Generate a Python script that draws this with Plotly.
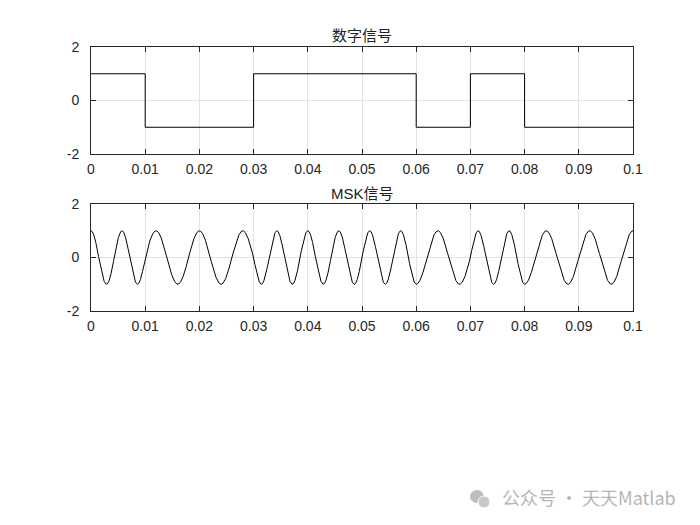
import numpy as np
import plotly.graph_objects as go

# data
bits = [1, -1, -1, 1, 1, 1, -1, 1, -1, -1]   # one bit per 0.01 s
bit_period = 0.01
carrier_freq = 150.0      # Hz
freq_dev = 25.0           # Hz  (f = fc + dev*bit)
x_ticks = [0, 0.01, 0.02, 0.03, 0.04, 0.05, 0.06, 0.07, 0.08, 0.09, 0.1]
x_tick_text = ["0", "0.01", "0.02", "0.03", "0.04", "0.05", "0.06", "0.07", "0.08", "0.09", "0.1"]
y_ticks = [-2, 0, 2]
title_top = "数字信号"
title_bottom = "MSK信号"
watermark = "公众号 · 天天Matlab"

# digital signal as steps
step_x, step_y = [], []
for i, b in enumerate(bits):
    step_x += [i * bit_period, (i + 1) * bit_period]
    step_y += [b, b]

# continuous-phase MSK modulation of the bits
fs = 100000
t = np.arange(0, len(bits) * bit_period + 1e-12, 1 / fs)
idx = np.minimum((t / bit_period).astype(int), len(bits) - 1)
f_inst = carrier_freq + freq_dev * np.array(bits)[idx]
phase = np.concatenate([[0], np.cumsum(2 * np.pi * f_inst[:-1] / fs)])
msk = np.cos(phase)

FONT = "Liberation Sans, Arial, Noto Sans CJK SC"
fig = go.Figure()
fig.add_trace(go.Scatter(x=step_x, y=step_y, mode="lines",
                         line=dict(color="black", width=1), xaxis="x", yaxis="y",
                         hoverinfo="skip"))
fig.add_trace(go.Scatter(x=t, y=msk, mode="lines",
                         line=dict(color="black", width=1), xaxis="x2", yaxis="y2",
                         hoverinfo="skip"))

W, H = 700.0, 525.0
OFF = 8  # page body margin offset
ML, MR, MT, MB = 91 - OFF, 700 - 633 + OFF, 20, 20
PW, PH = W - ML - MR, H - MT - MB

def py(px):  # screen pixel y -> paper fraction
    return (H - MB - (px - OFF)) / PH

def pxx(px):  # screen pixel x -> paper fraction
    return ((px - OFF) - ML) / PW

def dom(top_px, bot_px):
    return [py(bot_px), py(top_px)]

axis_common = dict(showline=True, mirror="ticks", linecolor="#262626", linewidth=1,
                   ticks="inside", ticklen=5, tickcolor="#262626",
                   showgrid=True, gridcolor="#e3e3e3", gridwidth=1, zeroline=False,
                   automargin=False,
                   tickfont=dict(family=FONT, size=14, color="#262626"))

xaxis_common = dict(axis_common, range=[0, 0.1], tickvals=x_ticks, ticktext=x_tick_text,
                    ticklabelstandoff=2)
yaxis_common = dict(axis_common, range=[-2, 2], tickvals=y_ticks,
                    ticktext=[str(v) for v in y_ticks], ticklabelstandoff=8)

fig.update_layout(
    width=700, height=525,
    paper_bgcolor="white", plot_bgcolor="white",
    showlegend=False,
    margin=dict(l=ML, r=MR, t=MT, b=MB, autoexpand=False),
    xaxis=dict(xaxis_common, domain=[0, 1], anchor="y"),
    yaxis=dict(yaxis_common, domain=dom(47, 154), anchor="x"),
    xaxis2=dict(xaxis_common, domain=[0, 1], anchor="y2"),
    yaxis2=dict(yaxis_common, domain=dom(204, 311), anchor="x2"),
    font=dict(family=FONT, color="#262626"),
    annotations=[
        dict(text=title_top, x=0.5, xref="paper", y=py(47), yref="paper",
             yanchor="bottom", yshift=0, showarrow=False,
             font=dict(family="Noto Sans CJK SC", size=15, color="#222222")),
        dict(text=title_bottom, x=0.5, xref="paper", y=py(204), yref="paper",
             yanchor="bottom", yshift=0, showarrow=False,
             font=dict(family="Liberation Sans, Noto Sans CJK SC", size=15, color="#222222")),
        dict(text=watermark, x=pxx(678), xref="paper", y=py(497), yref="paper",
             xanchor="right", yanchor="middle", showarrow=False,
             font=dict(family="Noto Sans CJK SC", size=18, color="#b5b5b5")),
    ],
    shapes=[
        dict(type="circle", xref="paper", yref="paper",
             x0=pxx(470), x1=pxx(484), y0=py(503), y1=py(490),
             fillcolor="#bdbdbd", line=dict(width=0)),
        dict(type="circle", xref="paper", yref="paper",
             x0=pxx(478), x1=pxx(490), y0=py(508), y1=py(496),
             fillcolor="#c8c8c8", line=dict(color="white", width=1)),
    ],
)
fig.write_html("out.html")
